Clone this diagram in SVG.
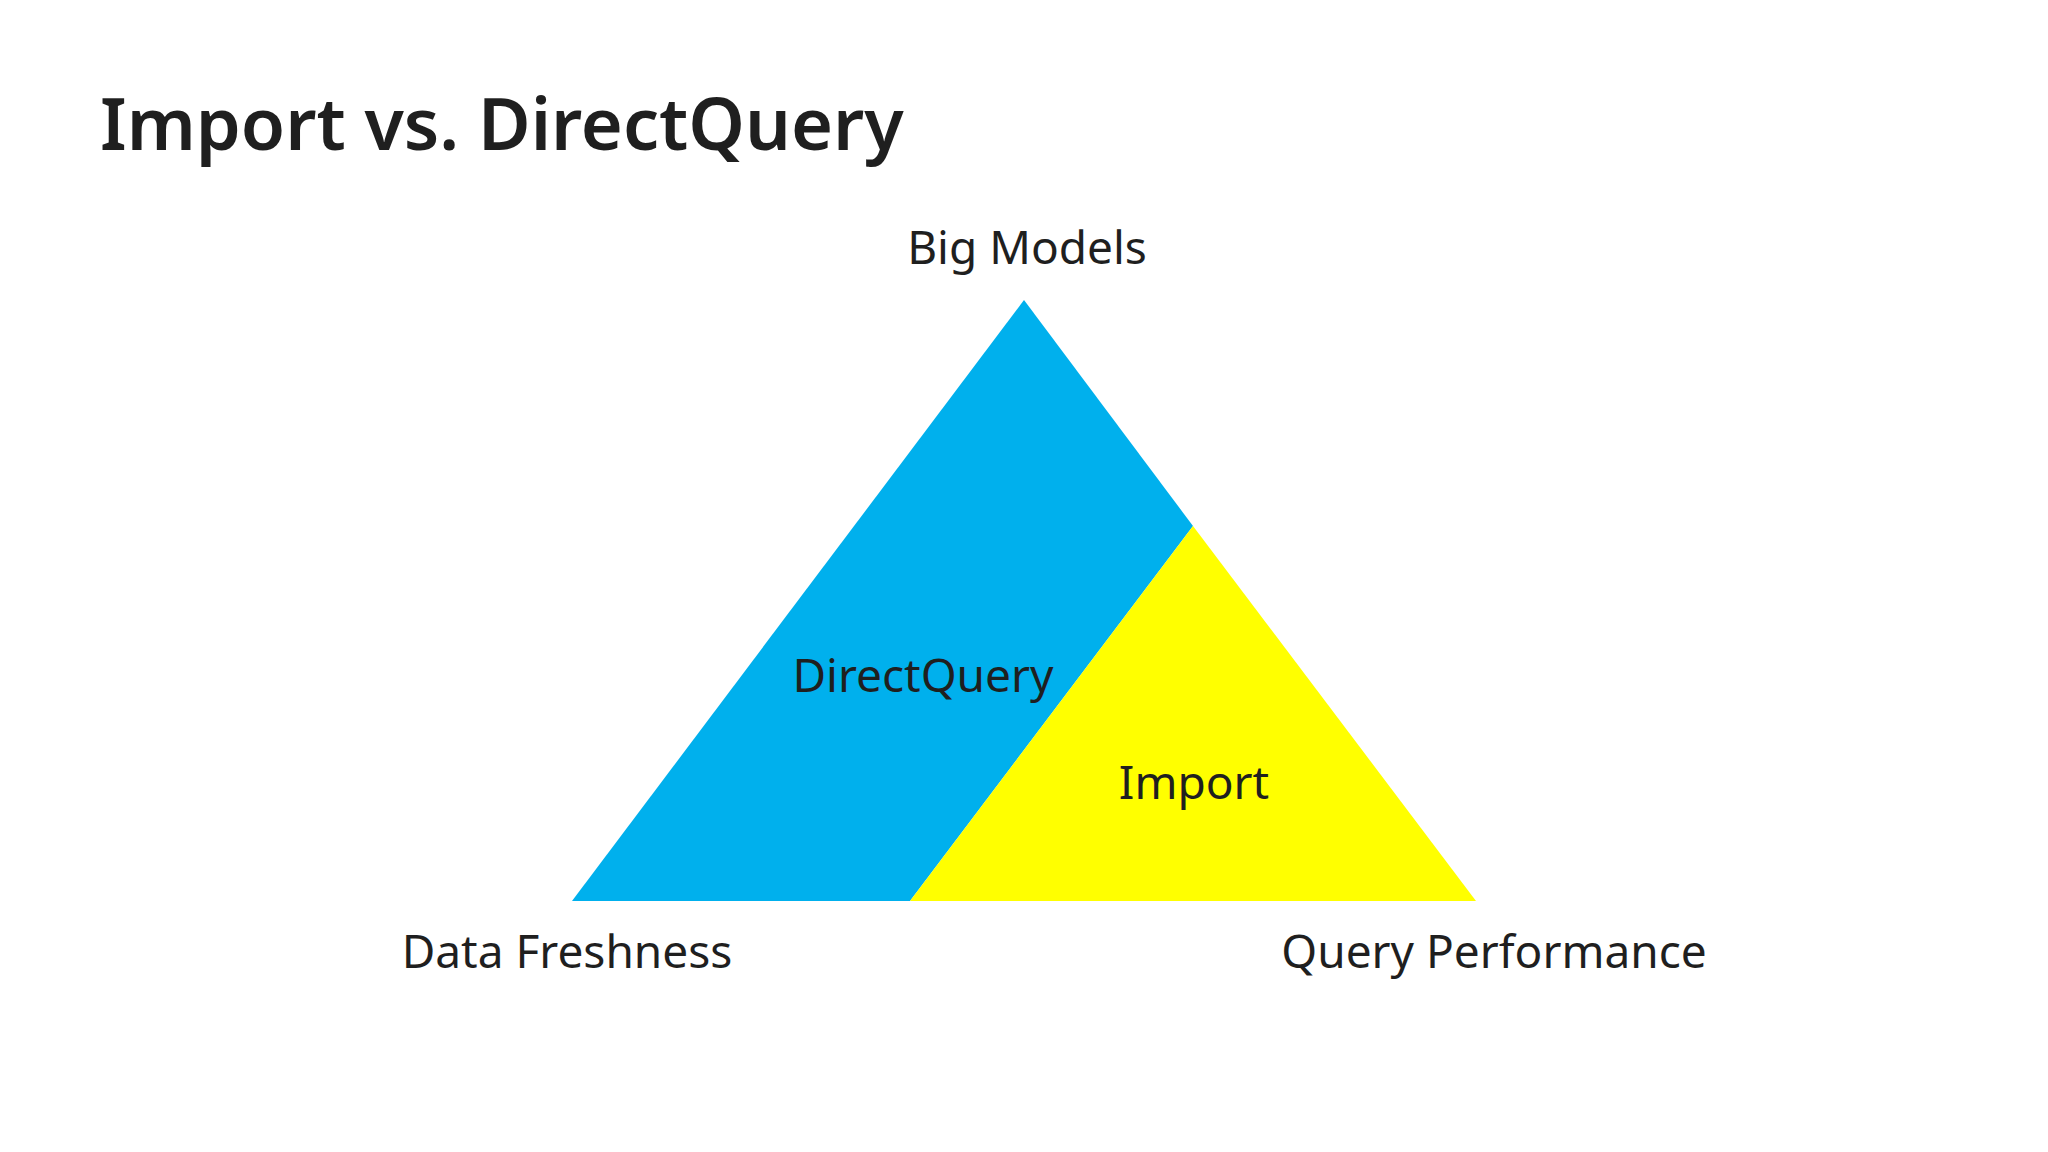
<svg xmlns="http://www.w3.org/2000/svg" width="2048" height="1152" viewBox="0 0 2048 1152">
<style>
text{font-family:"Noto Sans","Open Sans","Liberation Sans",sans-serif;fill:#1f1f1f}
.l{font-size:46px;text-anchor:middle}
</style>
<rect width="2048" height="1152" fill="#fff"/>
<text x="100" y="150" font-size="72" font-weight="600">Import vs. DirectQuery</text>
<g id="directquery"><polygon points="1024,300 1193,526 910,901 572,901" fill="#00b0ed"/><text class="l" x="923" y="692">DirectQuery</text></g>
<g id="import"><polygon points="1193,526 1476,901 910,901" fill="#ffff00"/><text class="l" x="1194" y="799">Import</text></g>
<g id="labels">
<text class="l" x="1027" y="264">Big Models</text>
<text class="l" x="567" y="968">Data Freshness</text>
<text class="l" x="1494" y="968">Query Performance</text>
</g>
<g id="connectors"/>
</svg>
